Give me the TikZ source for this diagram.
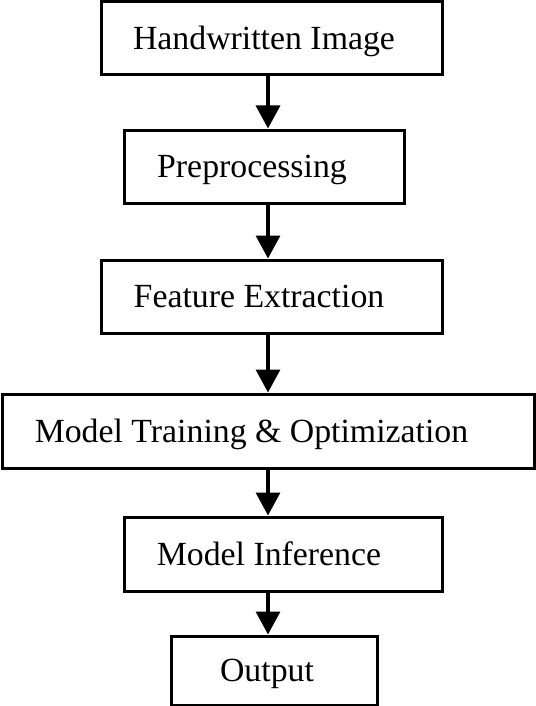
\documentclass[tikz,border=0pt]{standalone}
\usepackage{fontspec}
\setmainfont{Liberation Serif}
\usetikzlibrary{arrows.meta}

\begin{document}
\begin{tikzpicture}[x=0.5pt,y=-0.5pt,
	stage/.style={draw, line width=1.5pt, rectangle, minimum height=36.5pt, inner sep=0pt,
		text height=11.2pt, text depth=0pt, font=\fontsize{16.9}{20}\selectfont},
	flow/.style={-{Triangle[width=12pt,length=11.5pt]}, line width=1.65pt}]

\useasboundingbox (0,0) rectangle (535,706);

%----------------------------
% Stages, top to bottom
%----------------------------
\node[stage, minimum width=170.5pt] (img) at (271.5,38.5) {Handwritten Image\hspace*{7.5pt}};
\node[stage, minimum width=140pt] (pre) at (264,166.5) {Preprocessing\hspace*{12pt}};
\node[stage, minimum width=170.5pt] (feat) at (271.5,296.5) {Feature Extraction\hspace*{12.5pt}};
\node[stage, minimum width=266pt, minimum height=37pt] (train) at (268,431) {Model Training \& Optimization\hspace*{16.5pt}};
\node[stage, minimum width=159pt, minimum height=37pt] (infer) at (283,554) {Model Inference\hspace*{14pt}};
\node[stage, minimum width=103pt, minimum height=34.5pt] (out) at (274,670.5) {Output\hspace*{7pt}};

%----------------------------
% Arrows down the middle
%----------------------------
\coordinate (axis) at (268,0);
\foreach \a/\b in {img/pre, pre/feat, feat/train, train/infer, infer/out}
	\draw[flow] (\a.south -| axis) -- (\b.north -| axis);

\end{tikzpicture}
\end{document}
